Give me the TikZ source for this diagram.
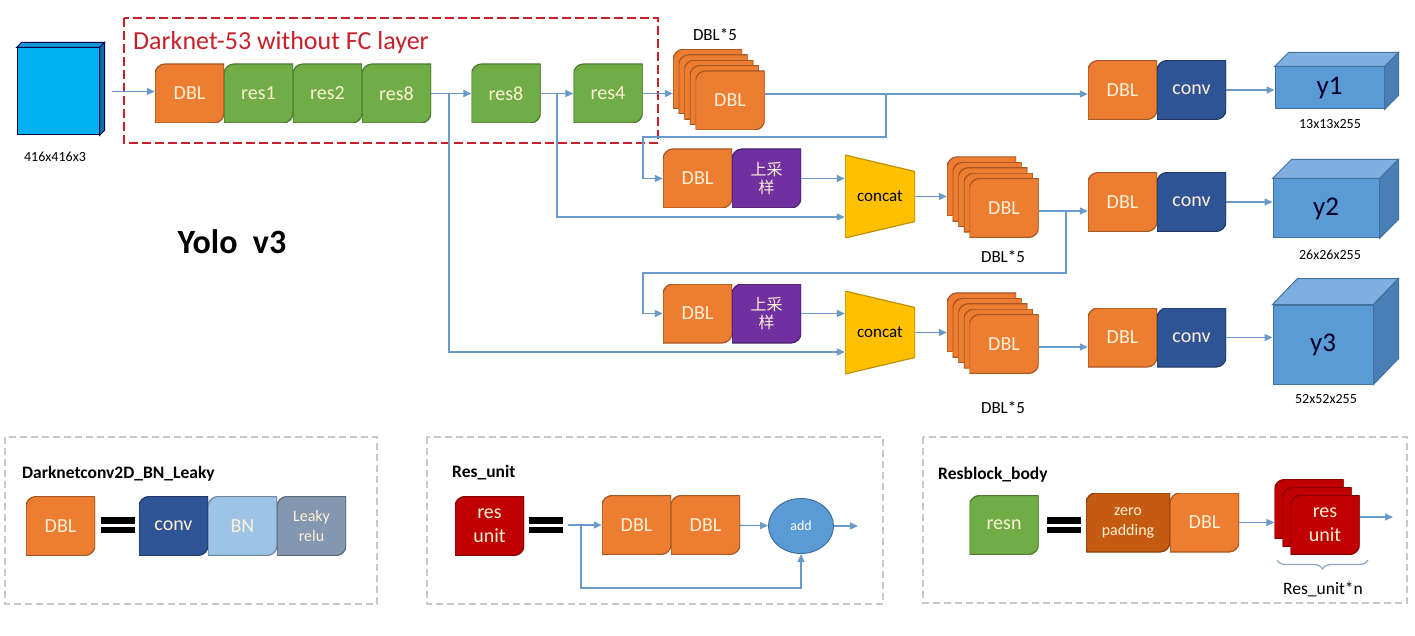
\documentclass[tikz,border=0pt]{standalone}
\usepackage{fontspec}
\setmainfont{Carlito}
\newfontfamily\cjk{Noto Sans CJK SC}
\usetikzlibrary{arrows.meta,shapes.geometric,decorations.pathreplacing}

\definecolor{dblc}{HTML}{ED7D31}
\definecolor{resc}{HTML}{70AD47}
\definecolor{upc}{HTML}{7030A0}
\definecolor{convc}{HTML}{2F5597}
\definecolor{unitc}{HTML}{C00000}
\definecolor{bnc}{HTML}{9DC3E6}
\definecolor{lrc}{HTML}{8497B0}
\definecolor{zpc}{HTML}{C55A11}
\definecolor{catc}{HTML}{FFC000}
\definecolor{arrc}{HTML}{6A9AC9}
\definecolor{cubec}{HTML}{5B9BD5}
\definecolor{cubetop}{HTML}{7EAFE0}
\definecolor{cubeside}{HTML}{4A7FB6}
\definecolor{cubeline}{HTML}{41719C}
\definecolor{incube}{HTML}{00B0F0}
\definecolor{incubetop}{HTML}{1597D3}
\definecolor{incubeside}{HTML}{0B6FA5}
\definecolor{blktext}{HTML}{FFF0D6}
\definecolor{darkred}{HTML}{C8202A}
\definecolor{panelc}{HTML}{C8C8C8}
\definecolor{bracec}{HTML}{8EA9C8}

\tikzset{
  blk/.style={minimum width=69pt, minimum height=59pt, inner sep=0pt, align=center,
    text=blktext, font=\fontsize{20}{24}\selectfont,
    path picture={\draw[fill=#1, draw=#1!70!black, line width=1.2pt]
      ([yshift=-10pt]path picture bounding box.north west)
      arc[start angle=180, end angle=90, radius=10pt]
      -- (path picture bounding box.north east)
      -- ([yshift=10pt]path picture bounding box.south east)
      arc[start angle=0, end angle=-90, radius=10pt]
      -- (path picture bounding box.south west) -- cycle;}},
  cat/.style={minimum width=70pt, minimum height=83pt, inner sep=0pt,
    font=\fontsize{17}{20}\selectfont,
    path picture={\draw[fill=catc, draw=catc!75!black, line width=1.2pt]
      (path picture bounding box.north west)
      -- ([yshift=-16.5pt]path picture bounding box.north east)
      -- ([yshift=16.5pt]path picture bounding box.south east)
      -- (path picture bounding box.south west) -- cycle;}},
  cube/.style={draw=cubeline, fill=cubec, line width=1pt, inner sep=0pt,
    font=\fontsize{27}{30}\selectfont, text=black!85!blue},
  arr/.style={draw=arrc, line width=1.3pt, -{Triangle[length=8pt,width=7pt]}},
  dim/.style={font=\fontsize{14}{16}\selectfont},
  panel/.style={draw=panelc, line width=1.2pt, dash pattern=on 7pt off 4pt},
  ptitle/.style={anchor=west, inner sep=0pt, font=\bfseries\fontsize{17.5}{20}\selectfont},
}

\begin{document}
\begin{tikzpicture}[x=1pt, y=1pt]
  \path[fill=white] (0,0) rectangle (1415,-636);
  \useasboundingbox (0,0) rectangle (1415,-636);

  % backbone
  \draw[darkred, line width=2pt, dash pattern=on 9pt off 4pt] (124,-18) rectangle (658,-143);
  \node[anchor=west, inner sep=0pt, text=darkred, font=\fontsize{26}{30}\selectfont] (dn) at (133,-43) {Darknet-53 without FC layer};

  \node[draw=black!70!blue, fill=incube, line width=1pt, minimum width=82pt, minimum height=87pt] (inp) at (58,-91.5) {};
  \filldraw[draw=black!70!blue, fill=incubetop, line width=1pt] (inp.north west) -- ++(5,5) -- ([shift={(5,5)}]inp.north east) -- (inp.north east) -- cycle;
  \filldraw[draw=black!70!blue, fill=incubeside, line width=1pt] (inp.north east) -- ++(5,5) -- ([shift={(5,5)}]inp.south east) -- (inp.south east) -- cycle;
  \node[dim] (insz) at (55,-157) {416x416x3};

  \node[blk=dblc] (dbl0) at (189.5,-93.5) {DBL};
  \node[blk=resc] (res1) at (258.5,-93.5) {res1};
  \node[blk=resc] (res2) at (327.5,-93.5) {res2};
  \node[blk=resc] (res8a) at (396.5,-93.5) {res8};
  \node[blk=resc] (res8b) at (506,-93.5) {res8};
  \node[blk=resc] (res4) at (608,-93.5) {res4};

  % DBL*5 stacks
  \node[blk=dblc] (sa4) at (707.6,-78.9) {};
  \node[blk=dblc] (sa3) at (713.2,-84.3) {};
  \node[blk=dblc] (sa2) at (718.8,-89.7) {};
  \node[blk=dblc] (sa1) at (724.4,-95.1) {};
  \node[blk=dblc] (sa) at (730,-100.5) {DBL};
  \node[font=\fontsize{17}{20}\selectfont] (sal) at (715,-35) {DBL*5};

  \node[blk=dblc] (sb4) at (981.6,-186.4) {};
  \node[blk=dblc] (sb3) at (987.2,-191.8) {};
  \node[blk=dblc] (sb2) at (992.8,-197.2) {};
  \node[blk=dblc] (sb1) at (998.4,-202.6) {};
  \node[blk=dblc] (sb) at (1004,-208) {DBL};
  \node[font=\fontsize{17}{20}\selectfont] (sbl) at (1003,-257) {DBL*5};

  \node[blk=dblc] (sc4) at (981.6,-322.4) {};
  \node[blk=dblc] (sc3) at (987.2,-327.8) {};
  \node[blk=dblc] (sc2) at (992.8,-333.2) {};
  \node[blk=dblc] (sc1) at (998.4,-338.6) {};
  \node[blk=dblc] (sc) at (1004,-344) {DBL};
  \node[font=\fontsize{17}{20}\selectfont] (scl) at (1003,-408) {DBL*5};

  % upsampling branches
  \node[blk=dblc] (da) at (697.5,-178.5) {DBL};
  \node[blk=upc, font=\cjk\fontsize{16}{18}\selectfont] (ua) at (766.5,-178.5) {上采\\样};
  \node[cat] (cata) at (880,-196.5) {concat};
  \node[blk=dblc] (db) at (697.5,-313.5) {DBL};
  \node[blk=upc, font=\cjk\fontsize{16}{18}\selectfont] (ub) at (766.5,-313.5) {上采\\样};
  \node[cat] (catb) at (880,-332.5) {concat};

  % heads
  \node[blk=dblc] (o1) at (1122.5,-90) {DBL};
  \node[blk=convc] (c1) at (1191.5,-90) {conv};
  \node[blk=dblc] (o2) at (1122.5,-202) {DBL};
  \node[blk=convc] (c2) at (1191.5,-202) {conv};
  \node[blk=dblc] (o3) at (1122.5,-337.5) {DBL};
  \node[blk=convc] (c3) at (1191.5,-337.5) {conv};

  \node[cube, minimum width=109pt, minimum height=42pt] (y1) at (1329.5,-88) {y1};
  \filldraw[draw=cubeline, fill=cubetop, line width=1pt] (y1.north west) -- ++(14,14) -- ([shift={(14,14)}]y1.north east) -- (y1.north east) -- cycle;
  \filldraw[draw=cubeline, fill=cubeside, line width=1pt] (y1.north east) -- ++(14,14) -- ([shift={(14,14)}]y1.south east) -- (y1.south east) -- cycle;
  \node[cube, minimum width=106pt, minimum height=59pt] (y2) at (1326,-208.5) {y2};
  \filldraw[draw=cubeline, fill=cubetop, line width=1pt] (y2.north west) -- ++(19,19) -- ([shift={(19,19)}]y2.north east) -- (y2.north east) -- cycle;
  \filldraw[draw=cubeline, fill=cubeside, line width=1pt] (y2.north east) -- ++(19,19) -- ([shift={(19,19)}]y2.south east) -- (y2.south east) -- cycle;
  \node[cube, minimum width=100pt, minimum height=79pt] (y3) at (1323,-344.5) {y3};
  \filldraw[draw=cubeline, fill=cubetop, line width=1pt] (y3.north west) -- ++(25,26) -- ([shift={(25,26)}]y3.north east) -- (y3.north east) -- cycle;
  \filldraw[draw=cubeline, fill=cubeside, line width=1pt] (y3.north east) -- ++(25,26) -- ([shift={(25,26)}]y3.south east) -- (y3.south east) -- cycle;
  \node[dim] (y1sz) at (1330,-124) {13x13x255};
  \node[dim] (y2sz) at (1330,-255) {26x26x255};
  \node[dim] (y3sz) at (1326,-399) {52x52x255};

  \node[font=\bfseries\fontsize{34}{40}\selectfont] (yolo) at (232,-242) {Yolo\ \ v3};

  \coordinate (inq) at ([xshift=12pt]inp.east);
  \coordinate (jA) at (449,-93.5);
  \coordinate (jB) at (557,-93.5);
  \coordinate (sao) at ([yshift=6.5pt]sa.east);
  \coordinate (jC) at (886,-94);
  \coordinate (kC) at (643,-137);
  \coordinate (sbo) at ([yshift=-3pt]sb.east);
  \coordinate (jD) at (1066,-211);
  \coordinate (kD) at (643,-273);
  \coordinate (sco) at ([yshift=-3pt]sc.east);
  \coordinate (catain) at ([yshift=-20.5pt]cata.west);
  \coordinate (catbin) at ([yshift=-19.5pt]catb.west);

  \begin{scope}[arr]
    \draw (inq) to (inq -| dbl0.west);
    \draw (res8a) to (res8b);
    \draw (res8b) to (res4);
    \draw (res4) to (res4 -| sa4.west);
    \draw (sao) to (sao -| o1.west);
    \draw (jC) |- (kC) |- (da.west);
    \draw (jB) |- (catain);
    \draw (ua) to (ua -| cata.west);
    \draw (cata) to (cata -| sb4.west);
    \draw (sbo) to (sbo -| o2.west);
    \draw (jD) |- (kD) |- (db.west);
    \draw (jA) |- (catbin);
    \draw (ub) to (ub -| catb.west);
    \draw (catb) to (catb -| sc4.west);
    \draw (sco) to (sco -| o3.west);
    \draw (c1) to (c1 -| y1.west);
    \draw (c2) to (c2 -| y2.west);
    \draw (c3) to (c3 -| y3.west);
  \end{scope}

  % legend: DBL
  \draw[panel] (5,-437) rectangle (377,-604);
  \node[ptitle] (t1) at (22,-474) {Darknetconv2D\_BN\_Leaky};
  \node[blk=dblc] (ldbl) at (60.5,-526) {DBL};
  \fill (101,-517) rectangle (135,-524);
  \fill (101,-527) rectangle (135,-533);
  \node[blk=convc] (lconv) at (173.5,-526) {conv};
  \node[blk=bnc] (lbn) at (242.5,-526) {BN};
  \node[blk=lrc, font=\fontsize{16}{20}\selectfont] (llr) at (311.5,-526) {Leaky\\relu};

  % legend: res unit
  \draw[panel] (427,-437) rectangle (883,-604);
  \node[ptitle] (t2) at (452,-473) {Res\_unit};
  \node[blk=unitc] (lres) at (489.5,-526) {res\\unit};
  \fill (529,-517) rectangle (563,-524);
  \fill (529,-527) rectangle (563,-533);
  \node[blk=dblc] (ld1) at (636.5,-525) {DBL};
  \node[blk=dblc] (ld2) at (705.5,-525) {DBL};
  \node[ellipse, draw=cubeline, fill=cubec, line width=1pt, minimum width=65pt, minimum height=55pt, inner sep=0pt, text=white, font=\fontsize{14}{16}\selectfont] (add) at (801,-526) {add};
  \coordinate (rin) at (568,-525);
  \coordinate (jE) at (581,-525);
  \coordinate (rout) at (858,-526);
  \begin{scope}[arr]
    \draw (rin) to (ld1);
    \draw (jE) -- ++(0,-63) -| (add.south);
    \draw (ld2) to (add);
    \draw (add) to (rout);
  \end{scope}

  % legend: resblock body
  \draw[panel] (923,-437) rectangle (1407,-603);
  \node[ptitle] (t3) at (938,-475) {Resblock\_body};
  \node[blk=resc] (lresn) at (1004,-525) {resn};
  \fill (1047,-517) rectangle (1081,-524);
  \fill (1047,-527) rectangle (1081,-533);
  \node[blk=zpc, minimum width=84pt, font=\fontsize{16}{20}\selectfont] (lzp) at (1128,-522.5) {zero\\padding};
  \node[blk=dblc] (lzd) at (1204.5,-522.5) {DBL};
  \node[blk=unitc] (lu2) at (1309,-509) {};
  \node[blk=unitc] (lu1) at (1317,-517) {};
  \node[blk=unitc] (lu) at (1325,-525) {res\\unit};
  \draw[bracec, line width=1.2pt, decorate, decoration={brace, amplitude=9pt}] (1368,-560) -- (1277,-560);
  \node[font=\fontsize{17.5}{20}\selectfont] (lun) at (1323,-589) {Res\_unit*n};
  \coordinate (pout) at (1393,-517);
  \begin{scope}[arr]
    \draw (lzd) to (lzd -| lu2.west);
    \draw ([yshift=8pt]lu.east) to (pout);
  \end{scope}
\end{tikzpicture}
\end{document}
